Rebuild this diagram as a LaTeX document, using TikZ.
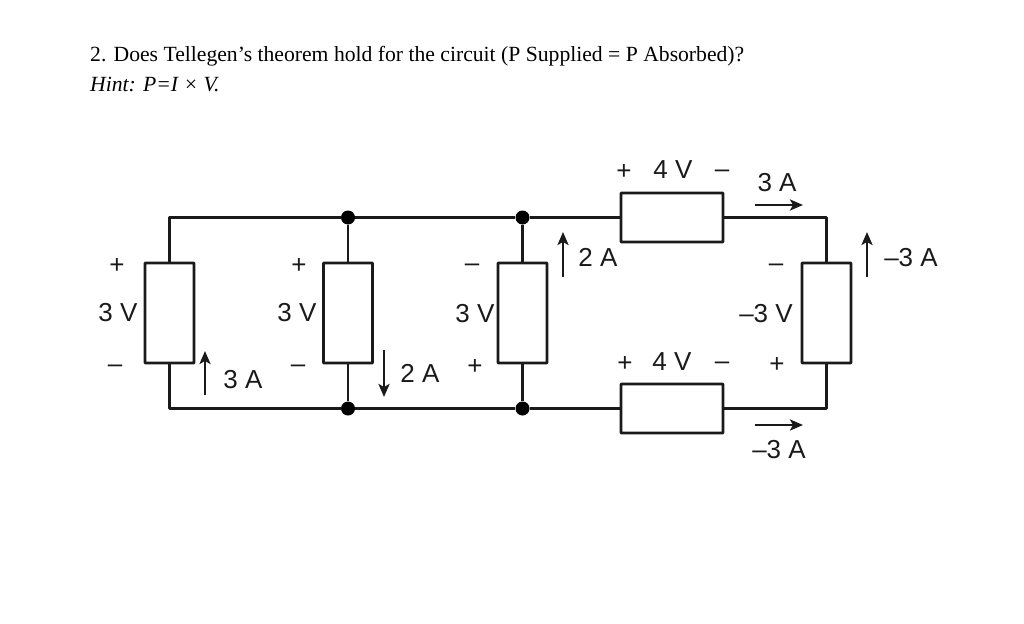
\documentclass[tikz,border=0pt]{standalone}
\usepackage{fontspec}
\setmainfont{Liberation Serif}
\newfontfamily\lblfont{Liberation Sans}
\usetikzlibrary{arrows.meta}
\definecolor{ink}{HTML}{1A1A1A}
\tikzset{
  wire/.style={line width=2.9pt,draw=ink,line join=round},
  vbox/.style={draw=ink,line width=2.9pt,fill=white,rectangle,minimum width=49pt,minimum height=100pt,inner sep=0pt,rounded corners=0.6pt},
  hbox/.style={draw=ink,line width=2.9pt,fill=white,rectangle,minimum width=102pt,minimum height=49pt,inner sep=0pt,rounded corners=0.6pt},
  junction/.style={circle,fill=black,minimum size=14pt,inner sep=0pt},
  lbl/.style={font=\lblfont\fontsize{26}{26}\selectfont,text=ink,inner sep=0pt},
  sym/.style={font=\lblfont\fontsize{26}{26}\selectfont,text=ink,inner sep=0pt},
  curarrow/.style={draw=ink,line width=2.5pt,-{Stealth[length=13pt,width=11pt,inset=3pt]}},
  title/.style={font=\fontsize{21.65}{24}\selectfont,text=black,inner sep=0pt,anchor=base west},
}
\begin{document}
\begin{tikzpicture}[x=1pt,y=-1pt]
\useasboundingbox (0,0) rectangle (1024,623);
\node[title] (q) at (90,62) {2. Does Tellegen’s theorem hold for the circuit (P Supplied = P Absorbed)?};
\node[title] (h) at (90,92) {\itshape Hint: P=I × V.};
% elements
\node[vbox] (b1) at (169.5,313) {};
\node[vbox] (b2) at (348,313) {};
\node[vbox] (b3) at (522.5,313) {};
\node[vbox] (b4) at (826.5,313) {};
\node[hbox] (rt) at (672,217.5) {};
\node[hbox] (rb) at (672,408.5) {};
\node[junction] (jt1) at (348,217.5) {};
\node[junction] (jb1) at (348,408.5) {};
\node[junction] (jt2) at (522.5,217.5) {};
\node[junction] (jb2) at (522.5,408.5) {};
\coordinate (tl) at (169.5,217.5);
\coordinate (bl) at (169.5,408.5);
\coordinate (tr) at (826.5,217.5);
\coordinate (br) at (826.5,408.5);
% wires
\draw[wire] (b1.north) -- (tl) -- (jt1) -- (jt2) -- (rt.west);
\draw[wire] (b1.south) -- (bl) -- (jb1) -- (jb2) -- (rb.west);
\draw[wire] (rt.east) -- (tr) -- (b4.north);
\draw[wire] (rb.east) -- (br) -- (b4.south);
\draw[wire] (jt1) -- (b2.north);
\draw[wire] (jb1) -- (b2.south);
\draw[wire] (jt2) -- (b3.north);
\draw[wire] (jb2) -- (b3.south);
% polarity and values
\node[sym] (p1) at (117,266) {+};
\node[lbl] (v1) at (118,313) {3 V};
\node[sym] (m1) at (115,369) {–};
\node[sym] (p2) at (299,266) {+};
\node[lbl] (v2) at (297,313) {3 V};
\node[sym] (m2) at (298,369) {–};
\node[sym] (m3) at (472,268) {–};
\node[lbl] (v3) at (475,314) {3 V};
\node[sym] (p3) at (475,367) {+};
\node[sym] (p4) at (624,172) {+};
\node[lbl] (v4) at (673,170) {4 V};
\node[sym] (m4) at (722,174) {–};
\node[sym] (p5) at (625,364) {+};
\node[lbl] (v5) at (672,362) {4 V};
\node[sym] (m5) at (722,366) {–};
\node[sym] (m6) at (776,268) {–};
\node[lbl] (v6) at (766,314) {–3 V};
\node[sym] (p6) at (777,365) {+};
% currents
\coordinate (a1s) at (205,395); \coordinate (a1e) at (205,351);
\draw[curarrow] (a1s) -- (a1e);
\node[lbl] (i1) at (243,380) {3 A};
\coordinate (a2s) at (384,350); \coordinate (a2e) at (384,397);
\draw[curarrow] (a2s) -- (a2e);
\node[lbl] (i2) at (420,373) {2 A};
\coordinate (a3s) at (563,277); \coordinate (a3e) at (563,232);
\draw[curarrow] (a3s) -- (a3e);
\node[lbl] (i3) at (598,257) {2 A};
\coordinate (a4s) at (755,205); \coordinate (a4e) at (803,205);
\draw[curarrow] (a4s) -- (a4e);
\node[lbl] (i4) at (777,183) {3 A};
\coordinate (a5s) at (867,277); \coordinate (a5e) at (867,232);
\draw[curarrow] (a5s) -- (a5e);
\node[lbl] (i5) at (911,258) {–3 A};
\coordinate (a6s) at (755,425); \coordinate (a6e) at (803,425);
\draw[curarrow] (a6s) -- (a6e);
\node[lbl] (i6) at (779,450) {–3 A};
\end{tikzpicture}
\end{document}
